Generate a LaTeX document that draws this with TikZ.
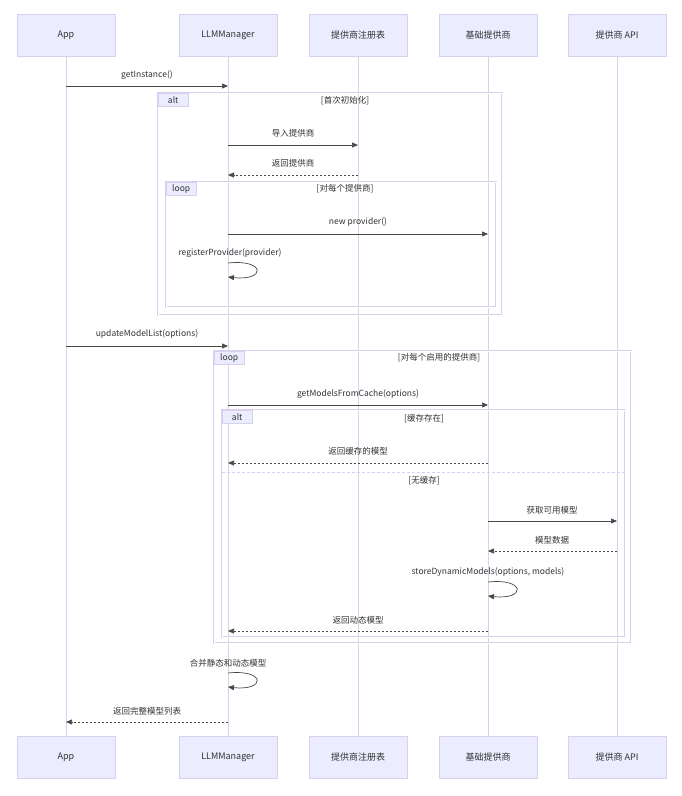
\documentclass[tikz,border=0pt]{standalone}
\usepackage{fontspec}
\setmainfont{Noto Sans CJK SC}
\usetikzlibrary{arrows.meta}
\definecolor{pfill}{HTML}{ECECFF}
\definecolor{pline}{HTML}{D9D0F0}
\definecolor{txt}{HTML}{333333}
\tikzset{
 x=1pt,y=-1pt,
 part/.style={draw=pline,fill=pfill,minimum width=98pt,minimum height=42pt,font=\fontsize{9}{10}\selectfont,text=txt},
 life/.style={draw=pline,line width=0.8pt},
 msg/.style={draw=txt!90,line width=0.7pt,-{Triangle[length=6pt,width=5pt]}},
 ret/.style={msg,dash pattern=on 2pt off 2pt},
 lbl/.style={font=\fontsize{8.5}{10}\selectfont,text=txt,inner sep=1pt},
 frame/.style={draw=pline,line width=0.7pt,double=white,double distance=1pt},
 tab/.style={fill=pfill,draw=pline,font=\fontsize{8.5}{10}\selectfont,text=txt,anchor=north west,minimum width=30pt,minimum height=13pt,inner sep=1pt},
}
\begin{document}
\begin{tikzpicture}
\useasboundingbox (0,0) rectangle (681,796);
\fill[white] (0,0) rectangle (681,796);
\foreach \n/\x/\t in {a/66/App,l/228/LLMManager,r/358/提供商注册表,b/488/基础提供商,p/617/提供商 API}{
 \draw[life] (\x,56) -- (\x,736);
 \node[part] (\n t) at (\x,35) {\t};
 \node[part] (\n b) at (\x,757) {\t};
}
% alt 1
\draw[frame] (158,93) rectangle (502,315);
\node[tab] (t1) at (158,93) {alt};
\node[lbl] (c1) at (345,101) {[首次初始化]};
% loop 1
\draw[frame] (166,182) rectangle (496,307);
\node[tab] (t2) at (166,182) {loop};
\node[lbl] (c2) at (345,189) {[对每个提供商]};
% loop 2
\draw[frame] (214,351) rectangle (631,643);
\node[tab] (t3) at (214,351) {loop};
\node[lbl] (c3) at (439,358) {[对每个启用的提供商]};
% alt 2
\draw[frame] (222,410) rectangle (625,637);
\node[tab] (t4) at (222,410) {alt};
\node[lbl] (c4) at (424,419) {[缓存存在]};
\draw[pline,line width=0.8pt,dash pattern=on 3pt off 2pt] (222,472) -- (625,472);
\node[lbl] (c5) at (424,481) {[无缓存]};

\coordinate (m1a) at (66,86); \coordinate (m1b) at (228,86);
\draw[msg] (m1a) -- (m1b); \node[lbl] at (147,75) {getInstance()};
\coordinate (m2a) at (228,145); \coordinate (m2b) at (358,145);
\draw[msg] (m2a) -- (m2b); \node[lbl] at (293,133) {导入提供商};
\coordinate (m3a) at (358,175); \coordinate (m3b) at (228,175);
\draw[ret] (m3a) -- (m3b); \node[lbl] at (293,163) {返回提供商};
\coordinate (m4a) at (228,234); \coordinate (m4b) at (488,234);
\draw[msg] (m4a) -- (m4b); \node[lbl] at (358,222) {new provider()};
\node[lbl] at (230,253) {registerProvider(provider)};
\coordinate (s1a) at (228,263); \coordinate (s1b) at (228,277);
\draw[msg] (s1a) .. controls (266,259) and (266,281) .. (s1b);
\coordinate (m5a) at (66,346); \coordinate (m5b) at (228,346);
\draw[msg] (m5a) -- (m5b); \node[lbl] at (147,334) {updateModelList(options)};
\coordinate (m6a) at (228,405); \coordinate (m6b) at (488,405);
\draw[msg] (m6a) -- (m6b); \node[lbl] at (358,394) {getModelsFromCache(options)};
\coordinate (m7a) at (488,463); \coordinate (m7b) at (228,463);
\draw[ret] (m7a) -- (m7b); \node[lbl] at (358,451) {返回缓存的模型};
\coordinate (m8a) at (488,521); \coordinate (m8b) at (617,521);
\draw[msg] (m8a) -- (m8b); \node[lbl] at (552,510) {获取可用模型};
\coordinate (m9a) at (617,551); \coordinate (m9b) at (488,551);
\draw[ret] (m9a) -- (m9b); \node[lbl] at (552,540) {模型数据};
\node[lbl] at (488,572) {storeDynamicModels(options, models)};
\coordinate (s2a) at (488,582); \coordinate (s2b) at (488,596);
\draw[msg] (s2a) .. controls (526,578) and (526,600) .. (s2b);
\coordinate (m10a) at (488,631); \coordinate (m10b) at (228,631);
\draw[ret] (m10a) -- (m10b); \node[lbl] at (358,620) {返回动态模型};
\node[lbl] at (228,663) {合并静态和动态模型};
\coordinate (s3a) at (228,673); \coordinate (s3b) at (228,687);
\draw[msg] (s3a) .. controls (266,669) and (266,691) .. (s3b);
\coordinate (m11a) at (228,722); \coordinate (m11b) at (66,722);
\draw[ret] (m11a) -- (m11b); \node[lbl] at (147,711) {返回完整模型列表};
\end{tikzpicture}
\end{document}
